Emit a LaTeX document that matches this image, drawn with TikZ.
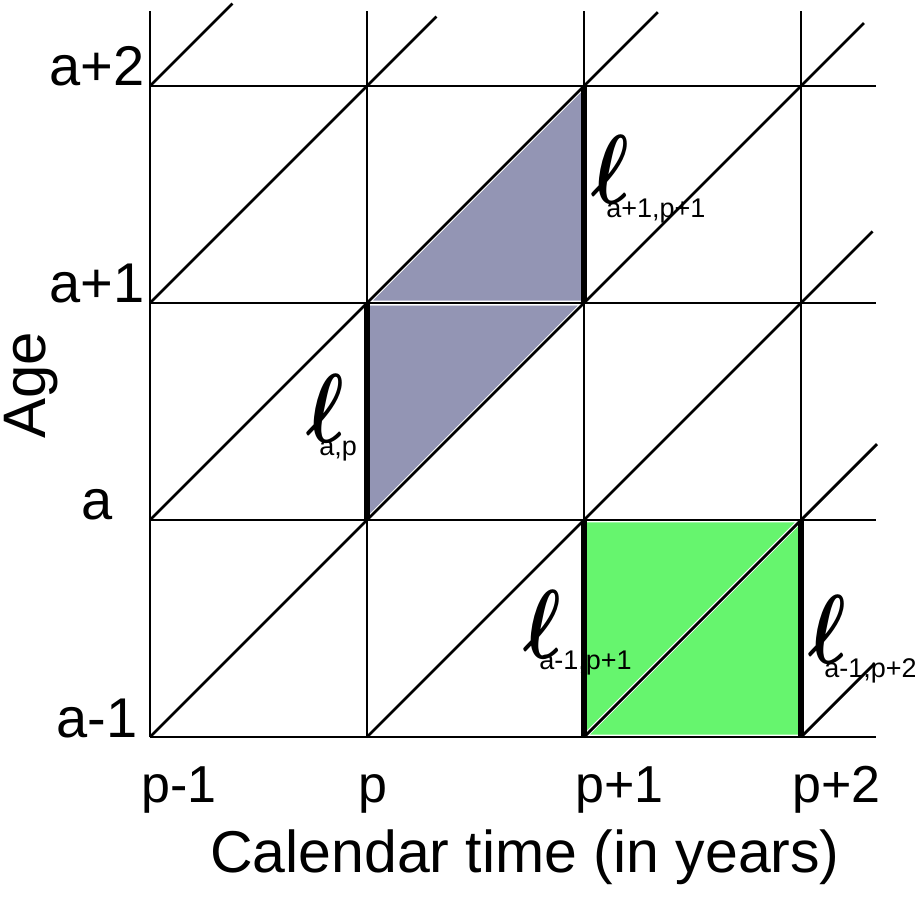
\documentclass[tikz,border=0pt]{standalone}
\usepackage{graphicx}
\usepackage{fontspec}
\setmainfont{Liberation Sans}
\usepackage{bm}
\definecolor{lexpurple}{HTML}{9395B4}
\definecolor{lexgreen}{HTML}{66F56E}
\newcommand{\bigell}{\scalebox{4.0}[4.9]{$\bm{\ell}$}}
\begin{document}
\begin{tikzpicture}[x=0.5pt,y=-0.5pt,
  gridline/.style={line width=1.4pt, black},
  lifeline/.style={line width=3.2pt, black},
  shade/.style={draw=white, line width=2.4pt, line join=round},
  ticka/.style={inner sep=0pt, anchor=base, font=\fontsize{28}{30}\selectfont},
  tickp/.style={inner sep=0pt, anchor=base west, font=\fontsize{26}{28}\selectfont},
  axislabel/.style={inner sep=0pt, anchor=base, font=\fontsize{29.5}{32}\selectfont},
  ellsym/.style={inner sep=0pt, anchor=base west},
  ellsub/.style={inner sep=0pt, anchor=base west, font=\fontsize{13.5}{15}\selectfont}]
\useasboundingbox (0,0) rectangle (915,905);
\begin{scope}[shift={(150,737)}, x=108.5pt, y=108.5pt]
  % fills
  \fill[lexpurple, shade] (1,1) -- (1,2) -- (2,2) -- cycle;
  \fill[lexpurple, shade] (1,2) -- (2,3) -- (2,2) -- cycle;
  \fill[lexgreen, shade] (2,0) -- (2,1) -- (3,1) -- cycle;
  \fill[lexgreen, shade] (2,0) -- (3,0) -- (3,1) -- cycle;
\end{scope}
% labels on the Lexis diagram
\node[ellsym] (e1) at (306,442) {\bigell};
\node[ellsub] (s1) at (319,455) {a,p};
\node[ellsym] (e2) at (591,203) {\bigell};
\node[ellsub] (s2) at (606,217) {a+1,p+1};
\node[ellsym] (e3) at (523,658) {\bigell};
\node[ellsub] (s3) at (539,669) {a-1,p+1};
\node[ellsym] (e4) at (808,663) {\bigell};
\node[ellsub] (s4) at (824,677) {a-1,p+2};
\begin{scope}[shift={(150,737)}, x=108.5pt, y=108.5pt]
  % grid
  \foreach \i in {0,1,2,3} {
    \draw[gridline] (\i,0) -- (\i,3.345);
    \draw[gridline] (0,\i) -- (3.345,\i);
  }
  % life lines (diagonals)
  \draw[gridline] (0,3) -- (0.38,3.38);
  \draw[gridline] (0,2) -- (1.32,3.32);
  \draw[gridline] (0,1) -- (2.34,3.34);
  \draw[gridline] (0,0) -- (3.29,3.29);
  \draw[gridline] (1,0) -- (3.33,2.33);
  \draw[gridline] (2,0) -- (3.35,1.35);
  \draw[gridline] (3,0) -- (3.34,0.34);
  % thick segments
  \draw[lifeline] (1,1) -- (1,2);
  \draw[lifeline] (2,2) -- (2,3);
  \draw[lifeline] (2,0) -- (2,1);
  \draw[lifeline] (3,0) -- (3,1);
\end{scope}
% axis tick labels
\node[ticka] (la3) at (97,85) {a+2};
\node[ticka] (la2) at (97,302) {a+1};
\node[ticka] (la1) at (97,519) {a};
\node[ticka] (la0) at (97,737) {a-1};
\node[tickp] (lp0) at (141,802) {p-1};
\node[tickp] (lp1) at (358,802) {p};
\node[tickp] (lp2) at (575,802) {p+1};
\node[tickp] (lp3) at (792,802) {p+2};
\node[axislabel] (xlab) at (525,872) {Calendar time (in years)};
\node[axislabel, rotate=90, font=\fontsize{30}{32}\selectfont] (ylab) at (46,385) {Age};
\end{tikzpicture}
\end{document}
